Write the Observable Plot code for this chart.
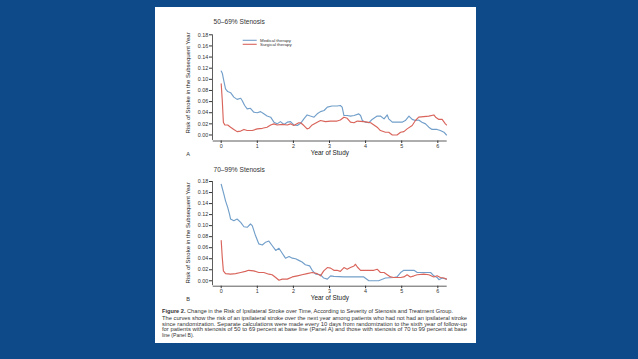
<!DOCTYPE html>
<html><head><meta charset="utf-8">
<script src="https://cdn.jsdelivr.net/npm/d3@7"></script>
<script src="https://cdn.jsdelivr.net/npm/@observablehq/plot@0.6"></script>
<style>
html,body{margin:0;padding:0;width:638px;height:359px;overflow:hidden;background:#0e4a8a;}
#panel{position:absolute;left:155px;top:7px;width:321px;height:336px;background:#fff;}
.abs{position:absolute;}
svg{overflow:visible;}
</style></head><body>
<div id="panel"></div>
<div id="a" class="abs" style="left:155px;top:7px"></div>
<div id="b" class="abs" style="left:155px;top:157px"></div>
<div id="cap" class="abs" style="left:155px;top:300px"></div>
<script>
// ---------- data ----------
const seriesNames = ["Medical therapy", "Surgical therapy"];
const seriesColors = ["#729fca", "#d9645b"];
const panelTitles = ["50\u201369% Stenosis", "70\u201399% Stenosis"];
const panelLetters = ["A", "B"];
const xTitle = "Year of Study";
const yTitle = "Risk of Stroke in the Subsequent Year";
const xTicks = [0, 1, 2, 3, 4, 5, 6];
const yTicks = [0, 0.02, 0.04, 0.06, 0.08, 0.10, 0.12, 0.14, 0.16, 0.18];

// Panel A (50-69% stenosis)
const yearsMedA = [0.00,0.03,0.07,0.12,0.18,0.26,0.35,0.44,0.54,0.58,0.65,0.72,0.81,0.90,1.00,1.09,1.18,1.27,1.37,1.46,1.55,1.64,1.74,1.83,1.92,2.01,2.11,2.20,2.29,2.38,2.47,2.57,2.66,2.75,2.85,2.94,3.07,3.21,3.30,3.35,3.40,3.49,3.58,3.68,3.81,3.86,3.91,4.00,4.09,4.18,4.32,4.41,4.51,4.60,4.64,4.74,4.87,5.01,5.10,5.20,5.29,5.38,5.47,5.56,5.66,5.75,5.84,5.98,6.07,6.17,6.24];
const riskMedA  = [0.115,0.111,0.098,0.083,0.078,0.076,0.068,0.064,0.066,0.062,0.053,0.047,0.048,0.041,0.040,0.042,0.038,0.034,0.032,0.023,0.020,0.024,0.019,0.023,0.024,0.018,0.017,0.021,0.029,0.036,0.034,0.032,0.038,0.042,0.044,0.050,0.052,0.052,0.053,0.050,0.035,0.035,0.034,0.035,0.038,0.035,0.026,0.023,0.022,0.028,0.034,0.034,0.029,0.036,0.029,0.023,0.023,0.023,0.026,0.034,0.028,0.026,0.027,0.023,0.020,0.014,0.010,0.010,0.008,0.005,0.000];
const yearsSurA = [0.00,0.03,0.06,0.10,0.18,0.26,0.35,0.44,0.54,0.63,0.72,0.86,1.00,1.14,1.27,1.37,1.46,1.55,1.69,1.83,1.92,2.01,2.15,2.20,2.29,2.38,2.43,2.52,2.66,2.75,2.89,3.03,3.21,3.30,3.40,3.49,3.58,3.68,3.77,3.95,4.04,4.14,4.23,4.32,4.41,4.55,4.64,4.74,4.87,4.97,5.06,5.15,5.29,5.38,5.47,5.61,5.75,5.89,5.94,6.03,6.12,6.21,6.24];
const riskSurA  = [0.092,0.062,0.023,0.018,0.018,0.014,0.010,0.006,0.007,0.010,0.008,0.008,0.011,0.012,0.014,0.018,0.020,0.018,0.019,0.018,0.020,0.017,0.022,0.022,0.017,0.011,0.012,0.018,0.023,0.026,0.024,0.025,0.025,0.027,0.032,0.030,0.023,0.022,0.025,0.024,0.023,0.022,0.018,0.014,0.008,0.005,0.005,0.000,0.000,0.005,0.006,0.011,0.017,0.026,0.032,0.033,0.034,0.036,0.032,0.028,0.028,0.020,0.018];

// Panel B (70-99% stenosis)
const yearsMedB = [0.00,0.07,0.12,0.18,0.23,0.26,0.35,0.44,0.54,0.63,0.72,0.81,0.86,0.95,1.04,1.14,1.23,1.32,1.41,1.51,1.60,1.69,1.78,1.88,1.97,2.06,2.15,2.24,2.33,2.45,2.52,2.62,2.75,2.84,2.94,3.03,3.12,3.40,3.70,3.95,4.09,4.36,4.55,4.78,4.87,4.97,5.06,5.34,5.43,5.80,5.89,5.98,6.03,6.12,6.24];
const riskMedB  = [0.175,0.158,0.145,0.133,0.121,0.112,0.109,0.112,0.106,0.098,0.097,0.103,0.100,0.082,0.067,0.065,0.070,0.072,0.064,0.055,0.059,0.050,0.041,0.044,0.041,0.040,0.037,0.034,0.029,0.027,0.019,0.012,0.011,0.005,0.003,0.009,0.008,0.007,0.007,0.007,0.000,0.000,0.005,0.006,0.007,0.015,0.019,0.019,0.015,0.015,0.009,0.006,0.002,0.005,0.003];
const yearsSurB = [0.00,0.03,0.06,0.12,0.26,0.40,0.54,0.67,0.76,0.90,1.04,1.18,1.32,1.41,1.51,1.60,1.69,1.83,1.97,2.11,2.24,2.38,2.52,2.66,2.75,2.84,2.94,3.03,3.12,3.21,3.30,3.40,3.49,3.58,3.68,3.72,3.77,3.86,4.04,4.23,4.32,4.41,4.51,4.60,4.69,4.78,4.97,5.06,5.15,5.24,5.34,5.43,5.61,5.75,5.89,5.98,6.07,6.17,6.24];
const riskSurB  = [0.073,0.042,0.018,0.013,0.012,0.013,0.015,0.017,0.019,0.018,0.015,0.015,0.012,0.011,0.006,0.001,0.003,0.003,0.007,0.009,0.011,0.013,0.015,0.013,0.009,0.018,0.024,0.023,0.019,0.019,0.017,0.024,0.021,0.024,0.027,0.030,0.025,0.019,0.019,0.019,0.021,0.015,0.015,0.011,0.007,0.006,0.006,0.007,0.011,0.007,0.009,0.011,0.012,0.011,0.007,0.009,0.006,0.005,0.003];

const captionTitleBold = "Figure 2.";
const captionTitleRest = " Change in the Risk of Ipsilateral Stroke over Time, According to Severity of Stenosis and Treatment Group.";
const captionLines = [
  "The curves show the risk of an ipsilateral stroke over the next year among patients who had not had an ipsilateral stroke",
  "since randomization. Separate calculations were made every 10 days from randomization to the sixth year of follow-up",
  "for patients with stenosis of 50 to 69 percent at base line (Panel A) and those with stenosis of 70 to 99 percent at base",
  "line (Panel B)."
];

// ---------- drawing ----------
const FONT = "'Liberation Sans', Arial, Helvetica, sans-serif";
const INK = "#333";
const xDomain = [-0.241, 6.26];

function rows(xs, ys, name) { return xs.map((x, i) => ({year: x, risk: ys[i], series: name})); }

function panel(cfg) {
  const data = rows(cfg.medX, cfg.medY, seriesNames[0]).concat(rows(cfg.surX, cfg.surY, seriesNames[1]));
  const yDomain = [cfg.yMin, 0.18];
  return Plot.plot({
    width: 321, height: cfg.height,
    marginLeft: 57, marginRight: 29.3, marginTop: cfg.mt, marginBottom: cfg.mb,
    style: {fontFamily: FONT, fontSize: "5.4px", color: INK, background: "transparent", overflow: "visible"},
    x: {domain: xDomain, axis: null},
    y: {domain: yDomain, axis: null},
    color: {domain: seriesNames, range: seriesColors},
    marks: [
      Plot.ruleX([xDomain[0]], {y1: yDomain[0] + 0.001, y2: 0.18, stroke: INK, strokeWidth: 0.8}),
      Plot.ruleY([yDomain[0]], {x1: xDomain[0] + 0.02, x2: xDomain[1], stroke: INK, strokeWidth: 0.8}),
      Plot.axisY(yTicks, {anchor: "left", tickSize: 3, tickPadding: 1.3, tickFormat: d3.format(".2f"), label: null, stroke: INK, fill: INK, fontSize: 5.4}),
      Plot.axisX(xTicks, {anchor: "bottom", tickSize: 2.5, tickPadding: 0.8, tickFormat: d => String(d), label: null, stroke: INK, fill: INK, fontSize: 5.4}),
      Plot.lineY(data, {x: "year", y: "risk", z: "series", stroke: "series", strokeWidth: 1.15, strokeLinejoin: "round"}),
      Plot.text([cfg.title], {frameAnchor: "top-left", dx: 1, dy: cfg.titleDy, textAnchor: "start", lineAnchor: "middle", fontSize: 6.6, fill: INK}),
      Plot.text([cfg.letter], {frameAnchor: "bottom-left", dx: -24.5, dy: cfg.letterDy, textAnchor: "middle", lineAnchor: "middle", fontSize: 5.6, fill: INK}),
      Plot.text([xTitle], {frameAnchor: "bottom", dy: 11.5, textAnchor: "middle", lineAnchor: "middle", fontSize: 6.4, fill: "#222"}),
      Plot.text([yTitle], {frameAnchor: "left", dx: -24, dy: cfg.yLabelDy, rotate: -90, textAnchor: "middle", lineAnchor: "middle", fontSize: 6.0, fill: "#222"})
    ]
  });
}

const svgA = panel({medX: yearsMedA, medY: riskMedA, surX: yearsSurA, surY: riskSurA,
  title: panelTitles[0], letter: panelLetters[0], height: 150, mt: 27.3, mb: 16.5, yMin: -0.0108,
  titleDy: -13.3, letterDy: 12.8, yLabelDy: -5});
document.getElementById("a").appendChild(svgA);

const svgB = panel({medX: yearsMedB, medY: riskMedB, surX: yearsSurB, surY: riskSurB,
  title: panelTitles[1], letter: panelLetters[1], height: 150, mt: 24, mb: 21.3, yMin: -0.0098,
  titleDy: -12, letterDy: 12.6, yLabelDy: -1});
document.getElementById("b").appendChild(svgB);

// legend (panel A)
const lg = d3.select(svgA).append("g").attr("font-family", FONT).attr("font-size", 4.4)
  .attr("fill", INK).attr("text-anchor", "start");
seriesNames.forEach((n, i) => {
  const y = 33.3 + i * 4.0;
  lg.append("line").attr("x1", 87.7).attr("x2", 101.7).attr("y1", y).attr("y2", y)
    .attr("stroke", seriesColors[i]).attr("stroke-width", 1.1);
  lg.append("text").attr("x", 105).attr("y", y).attr("dy", "0.35em").attr("text-anchor", "start").text(n);
});

// caption
const cap = d3.select("#cap").append("svg").attr("width", 321).attr("height", 40)
  .attr("font-family", FONT).attr("fill", "#333");
const t1 = cap.append("text").attr("x", 7).attr("y", 12.6).attr("font-size", 5.4)
  .attr("textLength", 291).attr("lengthAdjust", "spacingAndGlyphs");
t1.append("tspan").attr("font-weight", "bold").text(captionTitleBold);
t1.append("tspan").text(captionTitleRest);
const ys = [20.1, 25.8, 31.1, 36.5];
captionLines.forEach((l, i) => {
  const t = cap.append("text").attr("x", 7).attr("y", ys[i]).attr("font-size", 5.1).text(l);
  if (i < captionLines.length - 1) t.attr("textLength", 305).attr("lengthAdjust", "spacingAndGlyphs");
});
</script></body></html>
